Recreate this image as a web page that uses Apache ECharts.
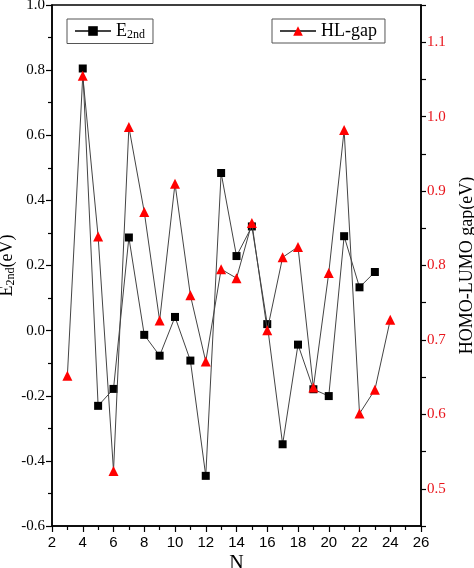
<!DOCTYPE html>
<html>
<head>
<meta charset="UTF-8">
<script src="https://cdn.jsdelivr.net/npm/echarts@6/dist/echarts.min.js"></script>
<title>E2nd and HL-gap</title>
<style>
html, body { margin: 0; padding: 0; background: #fff; }
#main { width: 474px; height: 568px; }
</style>
</head>
<body>
<div id="main"></div>
<script type="text/javascript">
	// cluster size N and values
	var nE2nd = [4, 5, 6, 7, 8, 9, 10, 11, 12, 13, 14, 15, 16, 17, 18, 19, 20, 21, 22, 23];
	var e2nd = [0.805, -0.231, -0.179, 0.286, -0.013, -0.077, 0.042, -0.092, -0.446, 0.484,
		0.229, 0.320, 0.020, -0.349, -0.043, -0.180, -0.201, 0.290, 0.133, 0.180];
	var nGap = [3, 4, 5, 6, 7, 8, 9, 10, 11, 12, 13, 14, 15, 16, 17, 18, 19, 20, 21, 22, 23, 24];
	var hlGap = [0.652, 1.055, 0.839, 0.524, 0.986, 0.872, 0.726, 0.910, 0.760, 0.671, 0.795,
		0.783, 0.857, 0.713, 0.811, 0.825, 0.636, 0.790, 0.982, 0.601, 0.633, 0.727];
	var gapTicks = [0.5, 0.6, 0.7, 0.8, 0.9, 1.0, 1.1];

	function pairs(xs, ys) {
		var out = [];
		for (var i = 0; i < xs.length; i++) {
			out.push([xs[i], ys[i]]);
		}
		return out;
	}

	var serif = 'Liberation Serif';
	var sans = 'Liberation Sans';
	var sub = { fontFamily: serif, fontSize: 12, verticalAlign: 'bottom', padding: [7, 0, 0, 0] };

	var myChart = echarts.init(document.getElementById('main'));
	var option = {
		animation : false,
		backgroundColor : '#fff',
		grid : {
			left : 52,
			right : 53,
			top : 5,
			bottom : 42,
			outerBoundsMode : 'none',
			show : true,
			borderColor : '#000',
			borderWidth : 1.5
		},
		legend : [ {
			data : [ 'E2nd' ],
			left : 67,
			top : 19,
			padding : [ 3, 8, 3, 7 ],
			itemWidth : 36,
			itemHeight : 12,
			itemGap : 8,
			borderColor : '#555',
			borderWidth : 1,
			formatter : function() { return 'E{s|2nd}'; },
			textStyle : { fontFamily : serif, fontSize : 18, color : '#000', rich : { s : sub } }
		}, {
			data : [ 'HL-gap' ],
			left : 272,
			top : 19,
			padding : [ 3, 8, 3, 7 ],
			itemWidth : 36,
			itemHeight : 12,
			borderColor : '#555',
			borderWidth : 1,
			textStyle : { fontFamily : serif, fontSize : 18, color : '#000' }
		} ],
		xAxis : {
			type : 'value',
			min : 2,
			max : 26,
			interval : 2,
			name : 'N',
			nameLocation : 'middle',
			nameGap : 28,
			nameMoveOverlap : false,
			nameTextStyle : { fontFamily : serif, fontSize : 20, color : '#000' },
			axisLine : { onZero : false, lineStyle : { color : '#000', width : 1.5 } },
			axisTick : { inside : false, length : 6, lineStyle : { color : '#000', width : 1.2 } },
			minorTick : { show : true, splitNumber : 2, length : 4, lineStyle : { color : '#000', width : 1.2 } },
			axisLabel : { fontFamily : sans, fontSize : 15, color : '#000', margin : 9 },
			splitLine : { show : false }
		},
		yAxis : [ {
			type : 'value',
			min : -0.6,
			max : 1.0,
			interval : 0.2,
			name : 'E{s|2nd}(eV)',
			nameLocation : 'middle',
			nameRotate : 90,
			nameGap : 35,
			nameMoveOverlap : false,
			nameTextStyle : { fontFamily : serif, fontSize : 18, color : '#000', rich : { s : sub } },
			axisLine : { show : true, onZero : false, lineStyle : { color : '#000', width : 1.5 } },
			axisTick : { length : 6, lineStyle : { color : '#000', width : 1.2 } },
			minorTick : { show : true, splitNumber : 2, length : 4, lineStyle : { color : '#000', width : 1.2 } },
			axisLabel : {
				fontFamily : serif, fontSize : 15, color : '#000', margin : 7,
				formatter : function(v) { return v.toFixed(1); }
			},
			splitLine : { show : false }
		}, {
			type : 'value',
			position : 'right',
			min : 0.45,
			max : 1.15,
			interval : 0.05,
			name : 'HOMO-LUMO gap(eV)',
			nameLocation : 'middle',
			nameRotate : 90,
			nameGap : 37,
			nameMoveOverlap : false,
			nameTextStyle : { fontFamily : serif, fontSize : 18, color : '#000' },
			axisLine : { show : true, onZero : false, lineStyle : { color : '#000', width : 1.5 } },
			axisTick : { length : 5, lineStyle : { color : '#000', width : 1.2 } },
			axisLabel : {
				fontFamily : serif, fontSize : 15, color : '#e8141b', margin : 6,
				formatter : function(v) {
					for (var i = 0; i < gapTicks.length; i++) {
						if (Math.abs(v - gapTicks[i]) < 1e-6) return gapTicks[i].toFixed(1);
					}
					return '';
				}
			},
			splitLine : { show : false }
		} ],
		series : [ {
			name : 'E2nd',
			type : 'line',
			yAxisIndex : 0,
			data : pairs(nE2nd, e2nd),
			symbol : 'rect',
			symbolSize : 8,
			itemStyle : { color : '#000' },
			lineStyle : { color : '#444', width : 1 },
			z : 2
		}, {
			name : 'HL-gap',
			type : 'line',
			yAxisIndex : 1,
			data : pairs(nGap, hlGap),
			symbol : 'triangle',
			symbolSize : 10,
			itemStyle : { color : '#f00' },
			lineStyle : { color : '#444', width : 1 },
			z : 3
		} ]
	};
	myChart.setOption(option);
</script>
</body>
</html>
